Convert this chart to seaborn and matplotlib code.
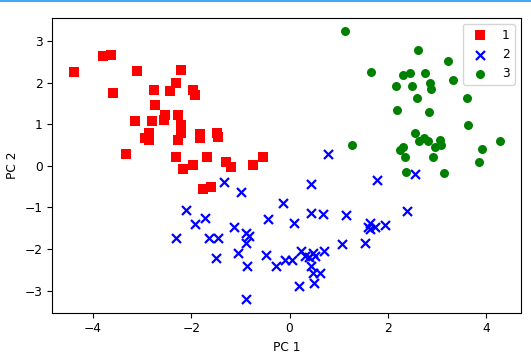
import matplotlib
matplotlib.use("Agg")
import matplotlib.pyplot as plt
from matplotlib.lines import Line2D
import seaborn as sns

# PCA-projected points, one pair of lists per class
pc1_class1 = [-4.39, -3.80, -3.62, -3.10, -2.20, -3.58, -2.76, -2.31, -2.43, -1.96,
              -1.92, -2.74, -3.14, -2.79, -2.53, -2.56, -2.26, -2.20, -2.20, -2.26,
              -2.85, -2.94, -2.86, -1.83, -1.82, -1.47, -1.46, -3.32, -2.31, -1.68,
              -2.16, -1.96, -1.30, -1.19, -0.74, -0.53, -1.75, -1.60]
pc2_class1 = [2.25, 2.64, 2.67, 2.28, 2.31, 1.74, 1.83, 1.98, 1.79, 1.83,
              1.71, 1.46, 1.07, 1.07, 1.21, 1.11, 1.21, 0.99, 0.79, 0.63,
              0.80, 0.68, 0.63, 0.76, 0.67, 0.79, 0.70, 0.28, 0.22, 0.22,
              -0.07, 0.02, 0.08, -0.04, 0.02, 0.20, -0.56, -0.50]

pc1_class2 = [-1.33, -0.99, -2.10, -1.93, -1.72, -2.31, -1.63, -1.45, -1.12, -0.89,
              -0.82, -0.89, -1.04, -1.49, -0.86, -0.89, -0.13, -0.43, 0.09, -0.47,
              -0.28, -0.10, 0.05, 0.20, 0.23, 0.31, 0.79, 0.43, 1.78, 2.54,
              0.43, 0.68, 1.14, 2.38, 1.63, 1.63, 1.74, 1.95, 1.59, 1.06,
              1.53, 0.71, 0.47, 0.51, 0.40, 0.43, 0.47, 0.61, 0.50]
pc2_class2 = [-0.38, -0.64, -1.07, -1.41, -1.25, -1.74, -1.74, -1.74, -1.46, -1.61,
              -1.68, -1.86, -2.09, -2.21, -2.42, -3.21, -0.89, -1.29, -1.38, -2.15,
              -2.41, -2.27, -2.27, -2.88, -2.05, -2.17, 0.29, -0.43, -0.34, -0.19,
              -1.13, -1.17, -1.19, -1.09, -1.38, -1.53, -1.46, -1.42, -1.46, -1.88,
              -1.85, -2.06, -2.09, -2.17, -2.19, -2.41, -2.57, -2.59, -2.83]

pc1_class3 = [1.12, 2.61, 3.22, 1.65, 2.30, 2.45, 2.76, 3.32, 2.16, 2.49,
              2.85, 2.87, 2.59, 3.60, 2.18, 2.84, 3.63, 2.54, 2.63, 2.73,
              2.82, 3.05, 2.95, 3.07, 4.27, 3.91, 3.86, 1.27, 2.24, 2.30,
              2.34, 2.92, 2.36, 3.14]
pc2_class3 = [3.24, 2.79, 2.52, 2.25, 2.19, 2.22, 2.22, 2.07, 1.91, 1.91,
              1.98, 1.85, 1.62, 1.64, 1.35, 1.29, 0.98, 0.80, 0.60, 0.66,
              0.60, 0.63, 0.45, 0.49, 0.59, 0.41, 0.10, 0.50, 0.37, 0.45,
              0.22, 0.20, -0.14, -0.17]

labels = ["1", "2", "3"]
colors = ["red", "blue", "green"]
markers = ["s", "x", "o"]

plt.rcParams["font.size"] = 8.8

fig = plt.figure(figsize=(5.31, 3.53), dpi=100)
ax = fig.add_axes([0.0985, 0.1142, 0.8825, 0.8358])

data = [(pc1_class1, pc2_class1), (pc1_class2, pc2_class2), (pc1_class3, pc2_class3)]
for (xs, ys), lab, c, m in zip(data, labels, colors, markers):
    lw = 1.6 if m == "x" else 0
    sns.scatterplot(x=xs, y=ys, color=c, marker=m, label=lab, s=42,
                    linewidth=lw, ax=ax)

ax.set_xlabel("PC 1")
ax.set_ylabel("PC 2")
ax.legend(loc="upper right")

# the notebook cell border seen at the very top of the screenshot
fig.add_artist(Line2D([0, 1], [0.998, 0.998], color="#2196F3", linewidth=1.2,
                      transform=fig.transFigure))

fig.savefig("out.png", dpi=100)
